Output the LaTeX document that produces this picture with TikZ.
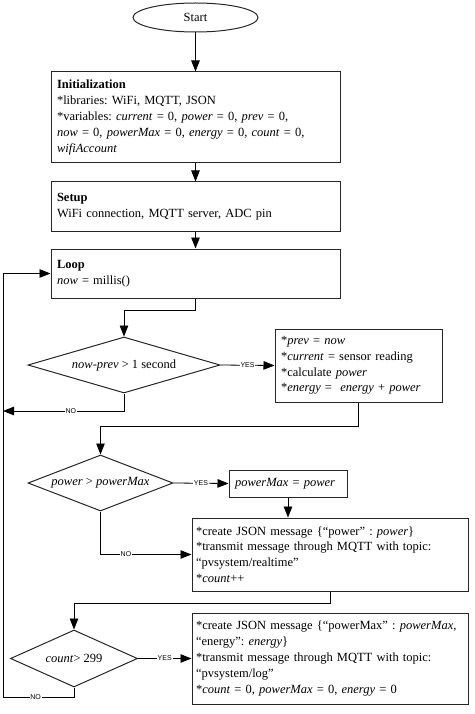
\documentclass[tikz,border=0pt]{standalone}
\usepackage{fontspec}
\setmainfont{Liberation Serif}
\setsansfont{Liberation Sans}
\usetikzlibrary{shapes.geometric,arrows.meta}
\frenchspacing

\tikzstyle{block}=[draw=black!85,line width=1pt,fill=white,rectangle,align=left,inner xsep=6pt,inner ysep=3pt,font=\fontsize{12.5}{15.8}\selectfont]
\tikzstyle{decision}=[draw=black!85,line width=1pt,diamond,inner sep=0pt,aspect=3,font=\fontsize{12.5}{15}\selectfont]
\tikzstyle{line}=[draw=black,line width=0.8pt]
\tikzstyle{arrow}=[line,-{Triangle[length=11pt,width=8.5pt]}]
\tikzstyle{answer}=[fill=white,inner sep=0.8pt,font=\fontsize{7}{8}\selectfont\sffamily]

\begin{document}
\begin{tikzpicture}[x=1pt,y=-1pt]
   \useasboundingbox (0,0) rectangle (474,714);

   \node[draw=black!85,line width=1pt,ellipse,minimum width=125pt,minimum height=29pt,inner sep=0pt,font=\fontsize{12.5}{15}\selectfont] (start) at (195.5,17.5) {Start};

   \node[block,text width=277pt,minimum height=91pt] (init) at (195.5,117.5)
      {\textbf{Initialization}\\
       {}*libraries: WiFi, MQTT, JSON\\
       {}*variables: \textit{current} = 0, \textit{power} = 0, \textit{prev} = 0,\\
       \textit{now} = 0, \textit{powerMax} = 0, \textit{energy} = 0, \textit{count} = 0,\\
       \textit{wifiAccount}};
   \node[block,text width=277pt,minimum height=49pt] (setup) at (195.5,206.5)
      {\textbf{Setup}\\
       WiFi connection, MQTT server, ADC pin};
   \node[block,text width=277pt,minimum height=49pt] (loop) at (195.5,273.5)
      {\textbf{Loop}\\
       \textit{now} = millis()};

   \node[decision,minimum width=192pt,minimum height=56pt,aspect=3.4] (d1) at (124,365)
      {\textit{now-prev} > 1 second};
   \node[block,text width=155pt,minimum height=73pt] (calc) at (358.5,365.5)
      {*\textit{prev} = \textit{now}\\
       {}*\textit{current} = sensor reading\\
       {}*calculate \textit{power}\\
       {}*\textit{energy} = \ \textit{energy} + \textit{power}};

   \node[decision,minimum width=145pt,minimum height=56pt,aspect=2.6] (d2) at (100.5,483)
      {\textit{power} > \textit{powerMax}};
   \node[block,text width=106pt,minimum height=27pt] (pmax) at (288,483.5)
      {\textit{powerMax} = \textit{power}};
   \node[block,text width=268pt,inner xsep=4pt,minimum height=73pt] (rt) at (330,554.5)
      {*create JSON message \{“power” : \textit{power}\}\\
       {}*transmit message through MQTT with topic:\\
       “pvsystem/realtime”\\
       {}*\textit{count}++};

   \node[decision,minimum width=127pt,minimum height=57pt,aspect=2.2] (d3) at (74,658.5)
      {\textit{count}> 299};
   \node[block,text width=268pt,inner xsep=4pt,minimum height=91pt] (log) at (330,658.5)
      {\mbox{*create JSON message \{“powerMax” : \textit{powerMax},}\\
       “energy”: \textit{energy}\}\\
       {}*transmit message through MQTT with topic:\\
       “pvsystem/log”\\
       {}*\textit{count} = 0, \textit{powerMax} = 0, \textit{energy} = 0};

   % return rail on the left
   \coordinate (r1) at (3,411);
   \coordinate (r3) at (3,697);
   \coordinate (rtop) at (3,273.5);

   \draw[arrow] (start) -- (init);
   \draw[arrow] (init) -- (setup);
   \draw[arrow] (setup) -- (loop);
   \draw[arrow] (loop.south) -- ++(0,12) -| (d1.north);
   \draw[arrow] (d1.east) -- node[answer]{YES} (calc.west);
   \draw[arrow] (d1.south) |- node[answer,pos=0.72]{NO} (r1);
   \draw[arrow] (calc.south) -- ++(0,24) -| (d2.north);
   \draw[arrow] (d2.east) -- node[answer]{YES} (pmax.west);
   \draw[arrow] (pmax.south) -- (pmax.south |- rt.north);
   \draw[arrow] (d2.south) |- node[answer,pos=0.64]{NO} (rt.west);
   \draw[arrow] (rt.south) -- ++(0,12) -| (d3.north);
   \draw[arrow] (d3.east) -- node[answer]{YES} (log.west);
   \draw[arrow] (d3.south) |- node[answer,pos=0.77]{NO} (r3) -- (rtop) -- (loop.west);
\end{tikzpicture}
\end{document}
